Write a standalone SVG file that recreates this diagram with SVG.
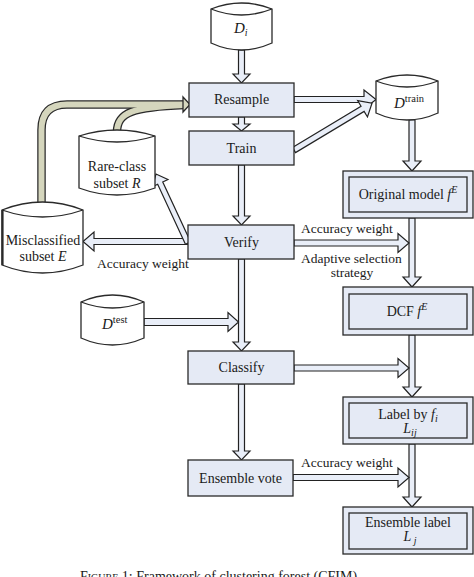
<svg xmlns="http://www.w3.org/2000/svg" width="474" height="577" viewBox="0 0 474 577">
<style>
text{font-family:"Liberation Serif","Times New Roman",serif;fill:#1a1a1a;}
.lbl{font-size:14px;text-anchor:middle;}
.sm{font-size:13.5px;}
.box{fill:#e5eaf5;stroke:#2a2a2a;stroke-width:1.3;}
.cyl{fill:#ffffff;stroke:#2a2a2a;stroke-width:1.3;}
.arr{fill:#e9eef8;stroke:#222;stroke-width:1.2;stroke-linejoin:miter;}
.olo{fill:none;stroke:#2a2a2a;stroke-width:8.5;}
.oli{fill:none;stroke:#d5d6bd;stroke-width:6;}
</style>
<defs>
<polygon id="dg" points="0,-3 0,3"/>
</defs>

<g id="connectors">
  <!-- olive curved feedback arrows -->
  <path class="olo" d="M41.5 208 V130 Q41.5 104.5 67 104.5 H184"/>
  <path class="olo" d="M117 132 C117 112 134 107 184 105"/>
  <path class="oli" d="M41.5 208 V130 Q41.5 104.5 67 104.5 H184"/>
  <path class="oli" d="M117 132 C117 112 134 107 184 105"/>
  <polygon points="183,97 190,104.5 183,112" fill="#d5d6bd" stroke="#2a2a2a" stroke-width="1.3"/>

  <!-- center vertical arrows -->
  <polygon class="arr" points="238.5,50 244.5,50 244.5,74 250,74 241.5,83 233,74 238.5,74"/>
  <polygon class="arr" points="238.5,117 244.5,117 244.5,124 250,124 241.5,131 233,124 238.5,124"/>
  <polygon class="arr" points="238.5,165 244.5,165 244.5,216 250,216 241.5,225 233,216 238.5,216"/>
  <polygon class="arr" points="238.5,259 244.5,259 244.5,342 250,342 241.5,351 233,342 238.5,342"/>
  <polygon class="arr" points="238.5,384 244.5,384 244.5,451 250,451 241.5,460 233,451 238.5,451"/>

  <!-- right vertical arrows -->
  <polygon class="arr" points="409,120 415,120 415,161 421,161 412,171 403,161 409,161"/>
  <polygon class="arr" points="409,218 415,218 415,277 421,277 412,287 403,277 409,277"/>
  <polygon class="arr" points="409,335 415,335 415,387 421,387 412,397 403,387 409,387"/>
  <polygon class="arr" points="409,444 415,444 415,497 421,497 412,507 403,497 409,497"/>

  <!-- horizontal arrows -->
  <polygon class="arr" points="294,96.5 364,96.5 364,90 376,99.5 364,109 364,102.5 294,102.5"/>
  <polygon class="arr" points="294,240 398,240 398,233.5 409,243 398,252.5 398,246 294,246"/>
  <polygon class="arr" points="294,365 398,365 398,358.5 409,368 398,377.5 398,371 294,371"/>
  <polygon class="arr" points="293,474.5 398,474.5 398,468 409,477.5 398,487 398,480.5 293,480.5"/>
  <polygon class="arr" points="144,318.5 228,318.5 228,312.5 238.5,322 228,331.5 228,325.5 144,325.5"/>
  <polygon class="arr" points="188,238.5 94,238.5 94,232 83,241.5 94,251 94,244.5 188,244.5"/>

  <!-- diagonal arrows -->
  <polygon class="arr" transform="translate(294,150) rotate(-31)" points="0,-3 80,-3 80,-9.5 91,0 80,9.5 80,3 0,3"/>
  <polygon class="arr" transform="translate(188,243) rotate(-114.9)" points="0,-2.8 66,-2.8 66,-8.5 76,0 66,8.5 66,2.8 0,2.8"/>
</g>

<g id="Di">
  <path class="cyl" d="M211 9 Q241.5 -3 272 9 V43 Q241.5 57 211 43 Z"/>
  <path class="cyl" fill="none" d="M211 9 Q241.5 21 272 9"/>
  <text x="234" y="33" font-size="15" font-style="italic">D<tspan font-size="10" dy="3">i</tspan></text>
</g>

<g id="Dtrain">
  <path class="cyl" d="M376 81 Q407 69 438 81 V113 Q407 127 376 113 Z"/>
  <path class="cyl" fill="none" d="M376 81 Q407 93 438 81"/>
  <text x="394" y="108" font-size="15"><tspan font-style="italic">D</tspan><tspan font-size="10.5" dy="-6">train</tspan></text>
</g>

<g id="Dtest">
  <path class="cyl" d="M81 302 Q112.5 288 144 302 V338 Q112.5 352 81 338 Z"/>
  <path class="cyl" fill="none" d="M81 302 Q112.5 314 144 302"/>
  <text x="102" y="329" font-size="15"><tspan font-style="italic">D</tspan><tspan font-size="10.5" dy="-6">test</tspan></text>
</g>

<g id="rare">
  <path class="cyl" d="M79 136 Q117 124 155 136 V188 Q117 202 79 188 Z"/>
  <path class="cyl" fill="none" d="M79 136 Q117 148 155 136"/>
  <text class="lbl" x="117" y="171">Rare-class</text>
  <text class="lbl" x="117" y="188">subset <tspan font-style="italic">R</tspan></text>
</g>

<g id="misclassified">
  <path class="cyl" d="M2 210 Q42.5 194 83 210 V265 Q42.5 281 2 265 Z"/>
  <path class="cyl" fill="none" d="M2 210 Q42.5 224 83 210"/>
  <line x1="2.5" y1="210" x2="2.5" y2="265" stroke="#2a2a2a" stroke-width="2.2"/>
  <text class="lbl" x="43" y="245">Misclassified</text>
  <text class="lbl" x="43" y="261">subset <tspan font-style="italic">E</tspan></text>
</g>

<g id="resample">
  <rect class="box" x="189" y="83" width="105" height="34"/>
  <text class="lbl" x="241.5" y="104">Resample</text>
</g>
<g id="train">
  <rect class="box" x="189" y="131" width="105" height="34"/>
  <text class="lbl" x="241.5" y="153">Train</text>
</g>
<g id="verify">
  <rect class="box" x="188" y="225" width="106" height="34"/>
  <text class="lbl" x="241.5" y="247">Verify</text>
</g>
<g id="classify">
  <rect class="box" x="188" y="351" width="106" height="33"/>
  <text class="lbl" x="241.5" y="372">Classify</text>
</g>
<g id="ensvote">
  <rect class="box" x="188" y="460" width="105" height="36"/>
  <text class="lbl" x="240.5" y="483">Ensemble vote</text>
</g>

<g id="original">
  <rect class="box" x="343" y="171" width="130" height="47"/>
  <rect class="box" x="349" y="177" width="118" height="35"/>
  <text class="lbl" x="408" y="199">Original model <tspan font-style="italic">f</tspan><tspan font-size="10" font-style="italic" dy="-6">E</tspan></text>
</g>
<g id="dcf">
  <rect class="box" x="343" y="287" width="130" height="48"/>
  <rect class="box" x="349" y="294" width="118" height="35"/>
  <text class="lbl" x="407" y="316">DCF <tspan font-style="italic">f</tspan><tspan font-size="10" font-style="italic" dy="-6">E</tspan></text>
</g>
<g id="labelby">
  <rect class="box" x="343" y="397" width="130" height="47"/>
  <rect class="box" x="349" y="403" width="118" height="35"/>
  <text class="lbl" x="408" y="419">Label by <tspan font-style="italic">f</tspan><tspan font-size="10" font-style="italic" dy="3">i</tspan></text>
  <text class="lbl" x="410" y="433" font-style="italic">L<tspan font-size="10" dy="3">ij</tspan></text>
</g>
<g id="enslabel">
  <rect class="box" x="343" y="507" width="130" height="47"/>
  <rect class="box" x="349" y="513" width="118" height="36"/>
  <text class="lbl" x="408" y="527">Ensemble label</text>
  <text class="lbl" x="410" y="541" font-style="italic">L<tspan font-size="10" dy="3"> j</tspan></text>
</g>

<g id="labels">
  <text class="sm" x="301" y="233">Accuracy weight</text>
  <text class="sm" x="301" y="263">Adaptive selection</text>
  <text class="sm" x="352" y="277" text-anchor="middle">strategy</text>
  <text class="sm" x="97" y="268">Accuracy weight</text>
  <text class="sm" x="301" y="467">Accuracy weight</text>
  <text x="80" y="581" font-size="14"><tspan font-variant="small-caps">Figure</tspan> 1: Framework of clustering forest (CFIM).</text>
</g>
</svg>
